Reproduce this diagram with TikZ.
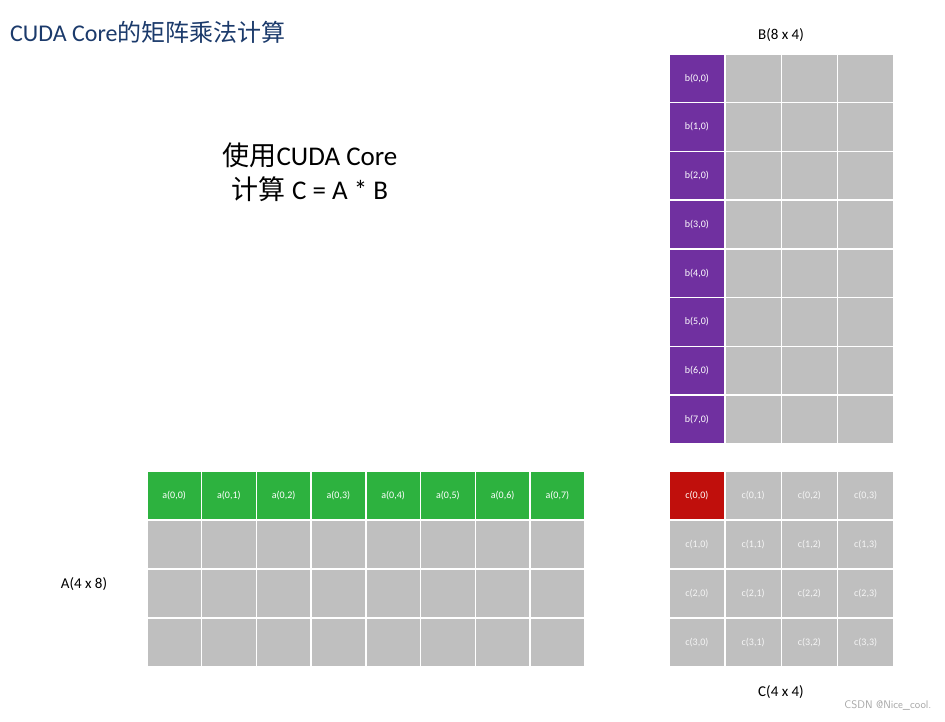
\documentclass[tikz,border=0pt]{standalone}
\usepackage{fontspec}
\setmainfont{Carlito}
\newfontfamily\cjk{Noto Sans CJK SC}
\definecolor{titleblue}{HTML}{1B3A6B}
\definecolor{cellgray}{HTML}{BFBFBF}
\definecolor{agreen}{HTML}{2DB23F}
\definecolor{bpurple}{HTML}{7030A0}
\definecolor{cred}{HTML}{C00F0C}
\begin{document}
\begin{tikzpicture}[x=1pt,y=-1pt,
  cellA/.style={draw=white,line width=1.5pt,fill=cellgray,minimum width=54.75pt,minimum height=49pt,inner sep=0pt,text=white,font=\fontsize{10}{12}\selectfont,anchor=north west},
  cellB/.style={cellA,minimum width=56.25pt,minimum height=48.75pt},
  lbl/.style={font=\fontsize{15}{18}\selectfont}]
\useasboundingbox[fill=white] (0,0) rectangle (945,721);
\node[anchor=west,text=titleblue,font=\fontsize{24}{28}\selectfont,inner sep=0pt] (title) at (10,32) {CUDA Core{\cjk 的矩阵乘法计算}};
\node[align=center,font=\fontsize{27}{34}\selectfont] (txt) at (310,172) {{\cjk 使用}CUDA Core\\{\cjk 计算} C = A * B};
% A
\foreach \c in {0,...,7}{
  \node[cellA,fill=agreen] (a0\c) at ({146+54.75*\c},470) {a(0,\c)};
  \foreach \r in {1,2,3}{\node[cellA] (a\r\c) at ({146+54.75*\c},{470+49*\r}) {};}
}
\node[lbl] (Alab) at (84,584) {A(4 x 8)};
% B
\foreach \r in {0,...,7}{
  \node[cellB,fill=bpurple] (b\r0) at (668,{53+48.75*\r}) {b(\r,0)};
  \foreach \c in {1,2,3}{\node[cellB] (b\r\c) at ({668+56.25*\c},{53+48.75*\r}) {};}
}
\node[lbl] (Blab) at (781,35) {B(8 x 4)};
% C
\foreach \r in {0,...,3}{\foreach \c in {0,...,3}{
  \node[cellB,minimum height=49pt,text=white!92!gray] (c\r\c) at ({668+56.25*\c},{470+49*\r}) {c(\r,\c)};}}
\node[cellB,minimum height=49pt,fill=cred] (c00r) at (668,470) {c(0,0)};
\node[lbl] (Clab) at (781,692) {C(4 x 4)};
\node[text=gray!70,font=\sffamily\fontsize{11}{13}\selectfont,anchor=east] (wm) at (935,705) {CSDN @Nice\_cool.};
\end{tikzpicture}
\end{document}
